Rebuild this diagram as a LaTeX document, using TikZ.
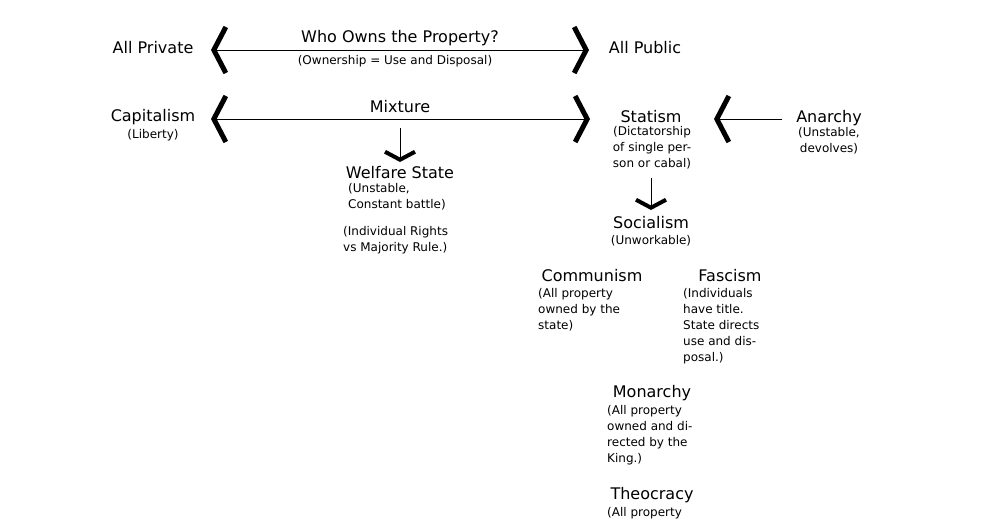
\documentclass[tikz,border=0pt]{standalone}
\usepackage{fontspec}
\setmainfont{DejaVu Sans}
\usetikzlibrary{arrows.meta}
\begin{document}
\begin{tikzpicture}[x=1pt,y=-1pt,
  big/.style={font=\fontsize{16}{18}\selectfont},
  small/.style={font=\fontsize{12}{16}\selectfont},
  lsmall/.style={small,anchor=north west,align=left,inner sep=0},
  csmall/.style={small,anchor=north,align=center,inner sep=0},
  chev/.style={line width=0.8pt,{Straight Barb[length=12pt,width=46pt,line width=5pt]}-{Straight Barb[length=12pt,width=46pt,line width=5pt]}},
  chevr/.style={line width=0.8pt,-{Straight Barb[length=12pt,width=46pt,line width=5pt]}},
  chevd/.style={line width=0.8pt,-{Straight Barb[length=8pt,width=30pt,line width=4pt]}}]
\useasboundingbox (0,0) rectangle (1000,525);
\node[big] (priv) at (153,48) {All Private};
\node[big] (pub) at (645,48) {All Public};
\node[big] (who) at (400,38) {Who Owns the Property?};
\node[small] (own) at (395,61) {(Ownership = Use and Disposal)};
\coordinate (l1) at (211,50); \coordinate (r1) at (589,50);
\draw[chev] (l1) -- (r1);
\node[big] (cap) at (153,117) {Capitalism};
\node[small] (lib) at (153,135) {(Liberty)};
\node[big] (mix) at (400,107) {Mixture};
\coordinate (l2) at (211,119); \coordinate (r2) at (590,119);
\draw[chev] (l2) -- (r2);
\coordinate (m1) at (400,128); \coordinate (m2) at (400,162);
\draw[chevd] (m1) -- (m2);
\node[big] (wel) at (400,173) {Welfare State};
\node[lsmall] (wel1) at (348,183) {(Unstable,\\Constant battle)};
\node[lsmall] (wel2) at (343,226) {(Individual Rights\\vs Majority Rule.)};
\node[big] (sta) at (651,117) {Statism};
\node[csmall] (sta1) at (652,126) {(Dictatorship\\of single per-\\son or cabal)};
\node[big] (ana) at (829,118) {Anarchy};
\node[csmall] (ana1) at (829,127) {(Unstable,\\devolves)};
\coordinate (a1) at (782,119); \coordinate (a2) at (714,119);
\draw[chevr] (a1) -- (a2);
\coordinate (s1) at (651,178); \coordinate (s2) at (651,210);
\draw[chevd] (s1) -- (s2);
\node[big] (soc) at (651,223) {Socialism};
\node[small] (soc1) at (651,241) {(Unworkable)};
\node[big] (com) at (592,276) {Communism};
\node[lsmall] (com1) at (538,288) {(All property\\owned by the\\state)};
\node[big] (fas) at (730,276) {Fascism};
\node[lsmall] (fas1) at (683,288) {(Individuals\\have title.\\State directs\\use and dis-\\posal.)};
\node[big] (mon) at (652,393) {Monarchy};
\node[lsmall] (mon1) at (607,405) {(All property\\owned and di-\\rected by the\\King.)};
\node[big] (the) at (652,495) {Theocracy};
\node[lsmall] (the1) at (607,507) {(All property};
\end{tikzpicture}
\end{document}
